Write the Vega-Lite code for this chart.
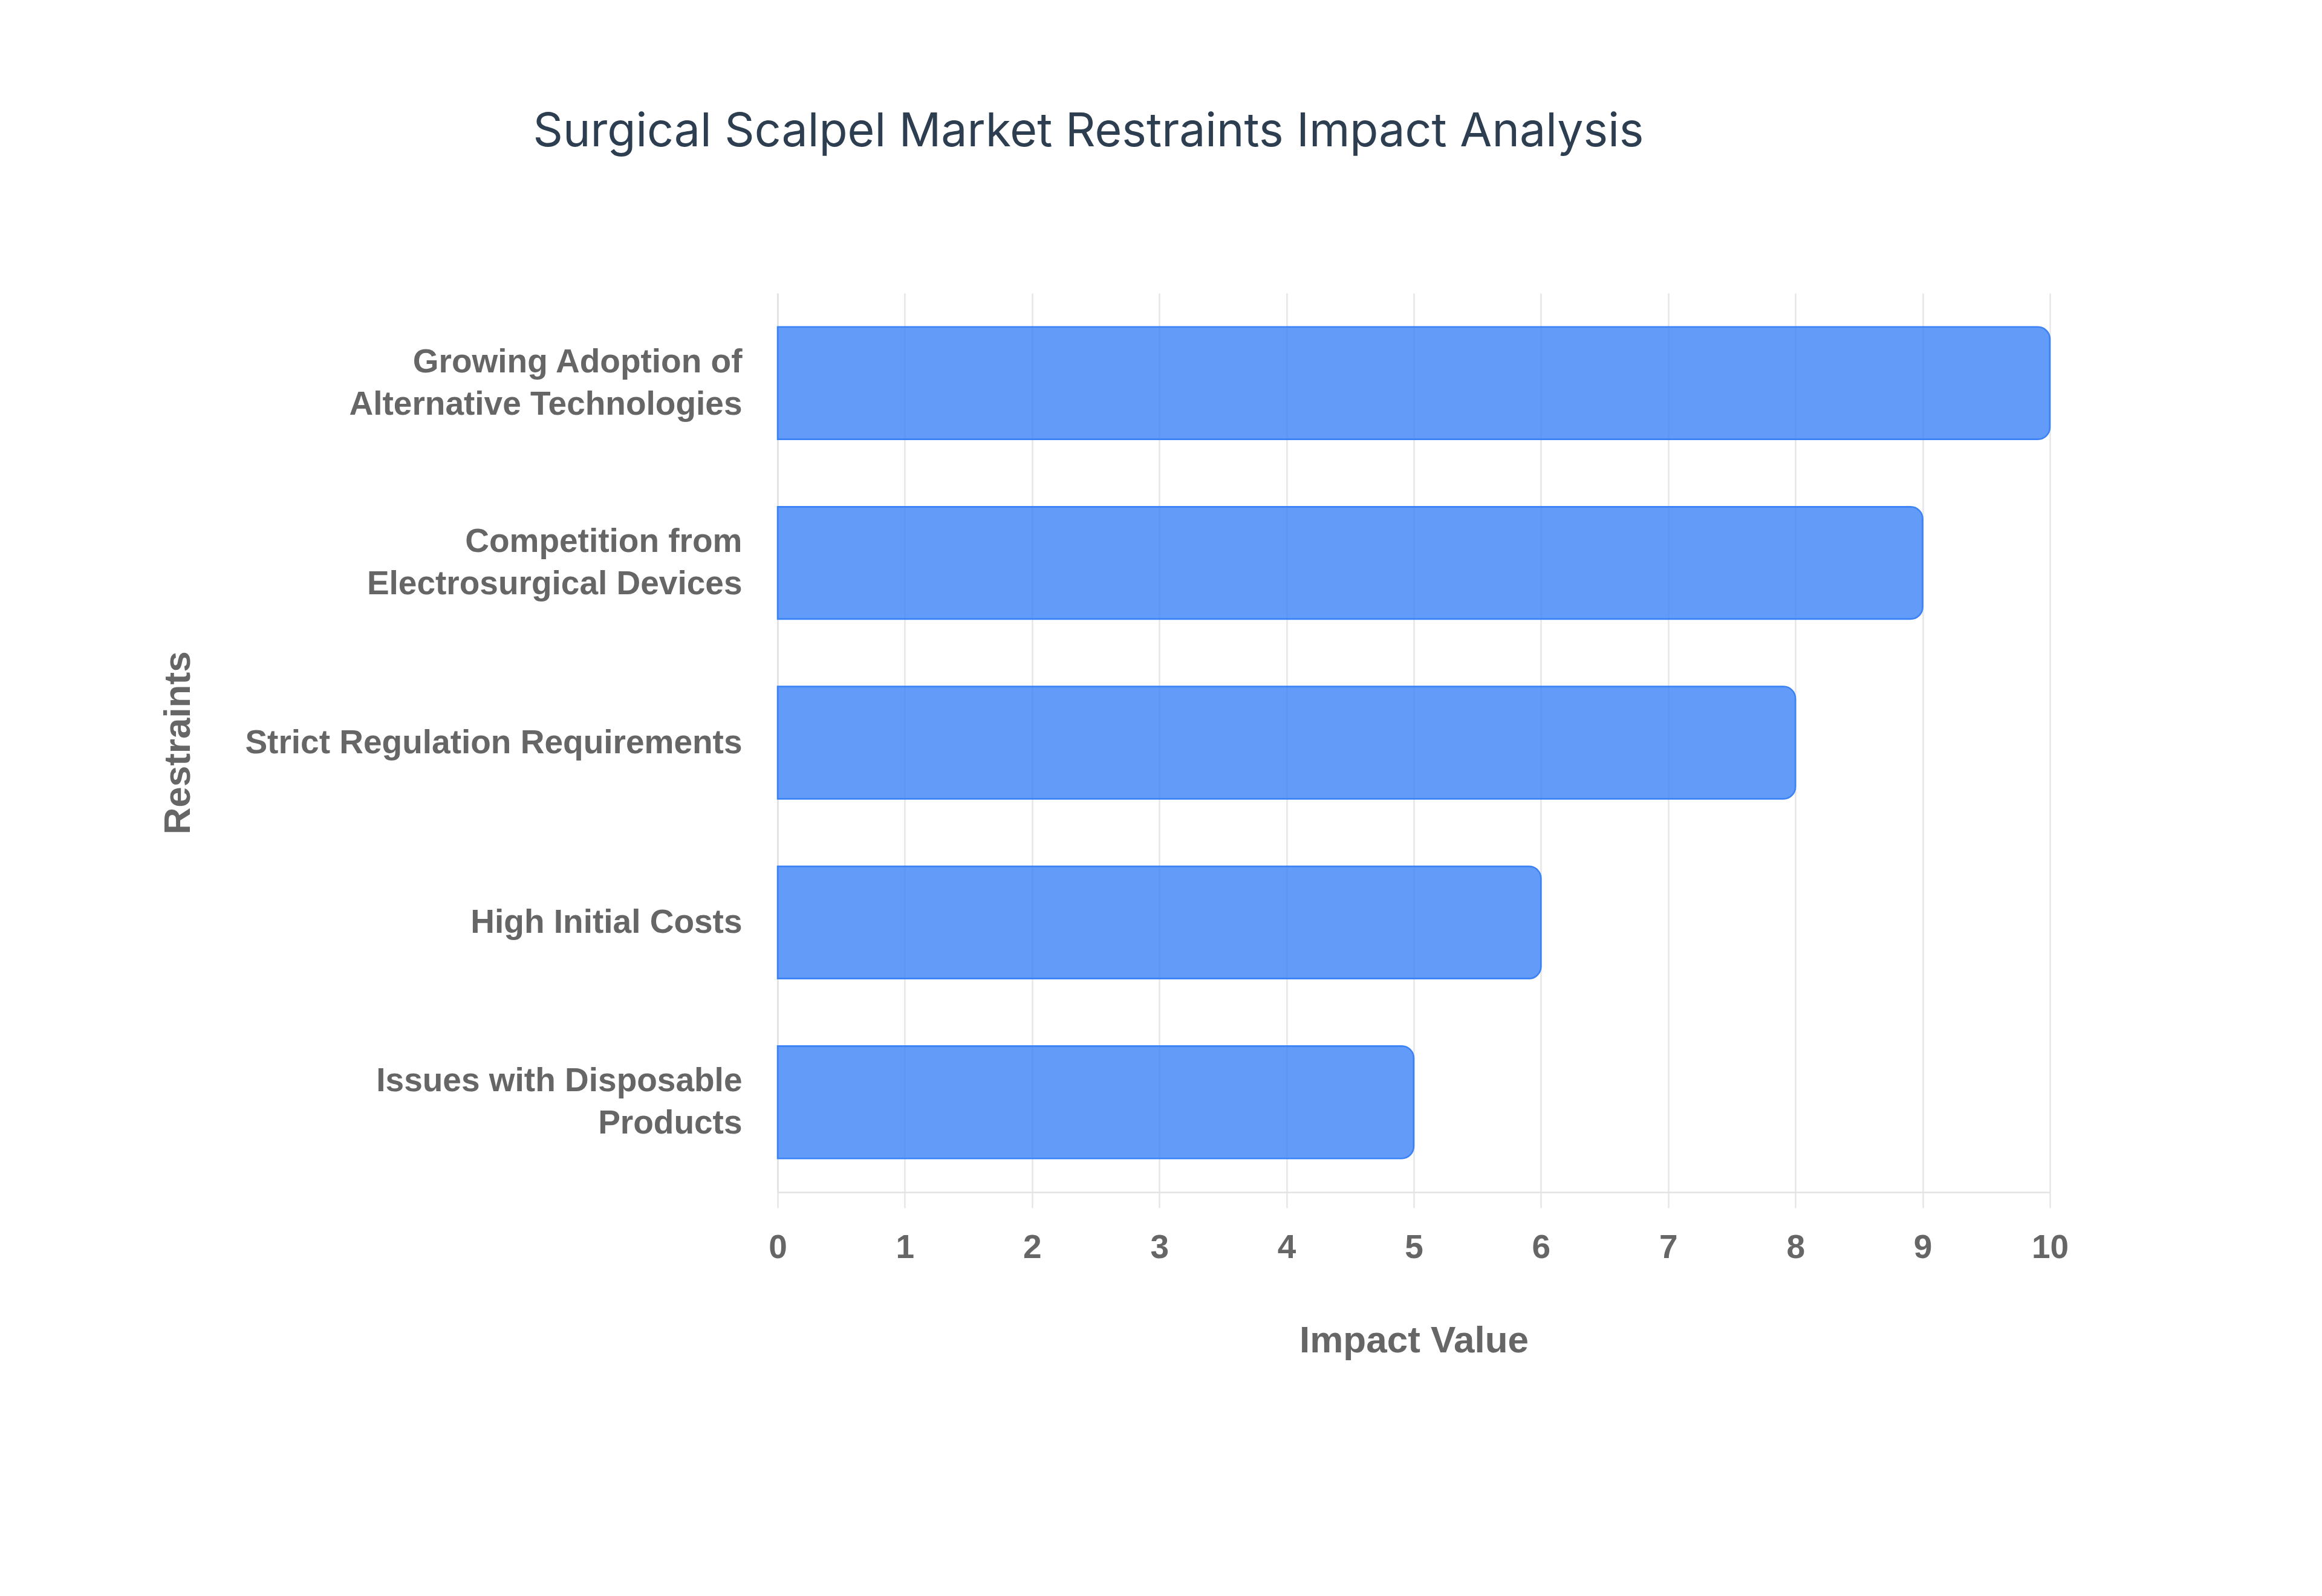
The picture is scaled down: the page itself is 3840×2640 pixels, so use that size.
{
  "$schema": "https://vega.github.io/schema/vega-lite/v6.json",
  "autosize": {"type": "none"},
  "padding": {"left": 1286, "top": 485, "right": 450, "bottom": 668},
  "width": 2104,
  "height": 1487,
  "background": "white",
  "title": {
    "text": "Surgical Scalpel Market Restraints Impact Analysis",
    "anchor": "middle",
    "frame": "group",
    "align": "center",
    "baseline": "alphabetic",
    "offset": 166,
    "dx": -538,
    "font": "Inter",
    "fontSize": 77,
    "fontWeight": "normal",
    "color": "#2c3e50"
  },
  "data": {
    "values": [
      {"Restraint": "Growing Adoption of Alternative Technologies", "Impact": 10},
      {"Restraint": "Competition from Electrosurgical Devices", "Impact": 9},
      {"Restraint": "Strict Regulation Requirements", "Impact": 8},
      {"Restraint": "High Initial Costs", "Impact": 6},
      {"Restraint": "Issues with Disposable Products", "Impact": 5}
    ]
  },
  "mark": {
    "type": "bar",
    "fill": "#3b82f6",
    "fillOpacity": 0.8,
    "stroke": "#3b82f6",
    "strokeWidth": 2.5,
    "cornerRadiusEnd": 20
  },
  "encoding": {
    "y": {
      "field": "Restraint",
      "type": "nominal",
      "sort": null,
      "scale": {"paddingInner": 0.375, "paddingOuter": 0.1875},
      "axis": {
        "title": "Restraints",
        "titleFont": "Liberation Sans",
        "titleFontSize": 62,
        "titleFontWeight": "bold",
        "titleColor": "#666666",
        "titleAngle": -90,
        "titleBaseline": "alphabetic",
        "titleAlign": "center",
        "titleX": -973,
        "titleY": 743.5,
        "labelFont": "Liberation Sans",
        "labelFontSize": 55,
        "labelFontWeight": "bold",
        "labelColor": "#666666",
        "labelLineHeight": 70,
        "labelPadding": 59,
        "labelLimit": 1200,
        "labelOffset": {
          "condition": {
            "test": "indexof(['Growing Adoption of Alternative Technologies', 'Competition from Electrosurgical Devices', 'Issues with Disposable Products'], datum.value) >= 0",
            "value": -35
          },
          "value": 0
        },
        "ticks": false,
        "grid": false,
        "domainColor": "#e3e3e3",
        "domainWidth": 2.5,
        "labelExpr": "datum.value == 'Growing Adoption of Alternative Technologies' ? ['Growing Adoption of', 'Alternative Technologies'] : datum.value == 'Competition from Electrosurgical Devices' ? ['Competition from', 'Electrosurgical Devices'] : datum.value == 'Issues with Disposable Products' ? ['Issues with Disposable', 'Products'] : datum.value"
      }
    },
    "x": {
      "field": "Impact",
      "type": "quantitative",
      "scale": {"domain": [0, 10], "nice": false},
      "axis": {
        "title": "Impact Value",
        "titleFont": "Liberation Sans",
        "titleFontSize": 62,
        "titleFontWeight": "bold",
        "titleColor": "#666666",
        "titleBaseline": "alphabetic",
        "titleY": 264,
        "values": [0, 1, 2, 3, 4, 5, 6, 7, 8, 9, 10],
        "labelFont": "Liberation Sans",
        "labelFontSize": 55,
        "labelFontWeight": "bold",
        "labelColor": "#666666",
        "labelBaseline": "alphabetic",
        "labelPadding": 82,
        "labelFlush": false,
        "tickSize": 26,
        "tickColor": "#e6e6e6",
        "tickWidth": 2.5,
        "grid": true,
        "gridColor": "#e6e6e6",
        "gridWidth": 2.5,
        "domainColor": "#e3e3e3",
        "domainWidth": 2.5
      }
    }
  },
  "config": {
    "view": {"stroke": null}
  }
}
